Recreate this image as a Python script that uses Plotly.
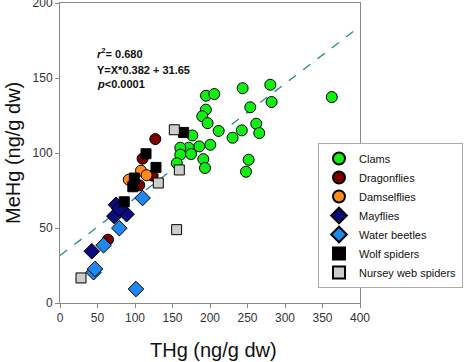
import plotly.graph_objects as go

# ---- data (THg x, MeHg y) ----
clams_x = [194.7, 205.7, 243.5, 280.4, 282.1, 194.4, 189.7, 196.8, 253.7, 261.7, 265.7, 211.5, 242.4, 230.1,
           176.4, 200.4, 185.7, 171.5, 160.4, 160.4, 174.7, 155.7, 191.1, 193.3, 251.5, 248.0, 362.4]
clams_y = [138.2, 139.3, 143.2, 145.5, 134.0, 128.9, 124.5, 119.9, 130.5, 119.5, 113.3, 114.7, 115.1, 110.2,
           111.7, 105.5, 104.4, 103.5, 103.5, 98.9, 99.3, 93.2, 95.9, 90.0, 95.5, 87.5, 137.3]

dragon_x = [127.1, 110.1, 123.5, 105.7, 64.0]
dragon_y = [109.3, 96.2, 84.9, 78.5, 42.2]

damsel_x = [108.0, 115.5, 91.7]
damsel_y = [88.2, 85.2, 82.2]

mayfly_x = [42.4, 74.7, 72.4, 88.8, 79.0]
mayfly_y = [34.5, 65.5, 57.9, 59.2, 62.9]

beetle_x = [44.8, 46.7, 58.1, 79.1, 110.1, 101.3]
beetle_y = [20.5, 22.7, 38.5, 49.9, 70.0, 9.3]

wolf_x = [164.8, 114.7, 128.0, 99.1, 97.1, 85.7]
wolf_y = [113.7, 99.5, 90.4, 83.3, 77.5, 67.5]

nursery_x = [28.0, 131.1, 152.4, 159.1, 155.5]
nursery_y = [16.7, 80.0, 115.5, 88.7, 48.9]

slope = 0.382
intercept = 31.65
line_x = [0, 400]

x_ticks = [0, 50, 100, 150, 200, 250, 300, 350, 400]
y_ticks = [0, 50, 100, 150, 200]

FONT = "Liberation Sans, Arial, sans-serif"
W, H = 474, 362
ML, MR, MT, MB = 60, 114, 3, 59

fig = go.Figure()

fig.add_trace(go.Scatter(
    x=line_x, y=[slope * v + intercept for v in line_x], mode="lines",
    line=dict(color="#1f8c8c", width=1.3, dash="dash"), showlegend=False, hoverinfo="skip"))

def add(name, xs, ys, symbol, color, size):
    fig.add_trace(go.Scatter(
        x=xs, y=ys, mode="markers", name=name,
        marker=dict(symbol=symbol, color=color, size=size,
                    line=dict(color="black", width=1))))

add("Clams", clams_x, clams_y, "circle", "#11ee11", 11)
add("Dragonflies", dragon_x, dragon_y, "circle", "#7a0000", 11)
add("Damselflies", damsel_x, damsel_y, "circle", "#ff8c1a", 11)
add("Mayflies", mayfly_x, mayfly_y, "diamond", "#0b0b7a", 12)
add("Water beetles", beetle_x, beetle_y, "diamond", "#1e88ee", 12)
add("Wolf spiders", wolf_x, wolf_y, "square", "#000000", 10)
add("Nursey web spiders", nursery_x, nursery_y, "square", "#cccccc", 10)

pw, ph = W - ML - MR, H - MT - MB
def px_to_paper(px, py):
    return (px - ML) / pw, (H - MB - py) / ph

lx, ly = px_to_paper(318, 143)

axis_common = dict(ticks="outside", ticklen=4, tickcolor="#888888", showline=True,
                   linecolor="#888888", linewidth=1, mirror=True, showgrid=False,
                   zeroline=False, automargin=False, ticklabeloverflow="allow",
                   tickfont=dict(size=12, color="#333333"))

fig.update_layout(
    width=W, height=H,
    margin=dict(l=ML, r=MR, t=MT, b=MB),
    paper_bgcolor="white", plot_bgcolor="white",
    font=dict(family=FONT, size=12, color="#222222"),
    legend=dict(x=lx, y=ly, xanchor="left", yanchor="top",
                bgcolor="white", bordercolor="#aaaaaa", borderwidth=1,
                font=dict(family=FONT, size=11, color="#111111"),
                tracegroupgap=0, itemsizing="constant"),
    xaxis=dict(range=[0, 400], tickvals=x_ticks, **axis_common),
    yaxis=dict(range=[0, 200], tickvals=y_ticks, **axis_common),
)

for txt, py in [("<b><i>r</i><sup>2</sup>= 0.680</b>", 53),
                ("<b>Y=X*0.382 + 31.65</b>", 70),
                ("<b><i>p</i><0.0001</b>", 84)]:
    ax, ay = px_to_paper(95, py)
    fig.add_annotation(x=ax, y=ay, xref="paper", yref="paper", showarrow=False, text=txt,
                       xanchor="left", yanchor="middle",
                       font=dict(family=FONT, size=11, color="#111111"))

# axis titles
tx, ty = px_to_paper(213, 350)
fig.add_annotation(x=tx, y=ty, xref="paper", yref="paper", showarrow=False,
                   text="THg (ng/g dw)", xanchor="center", yanchor="middle",
                   font=dict(family=FONT, size=20, color="#111111"))
tx, ty = px_to_paper(13, 153)
fig.add_annotation(x=tx, y=ty, xref="paper", yref="paper", showarrow=False,
                   text="MeHg (ng/g dw)", textangle=-90, xanchor="center", yanchor="middle",
                   font=dict(family=FONT, size=20, color="#111111"))

fig.write_html("out.html", config={"displayModeBar": False},
               post_script="document.body.style.margin='0';document.body.style.overflow='hidden';")
